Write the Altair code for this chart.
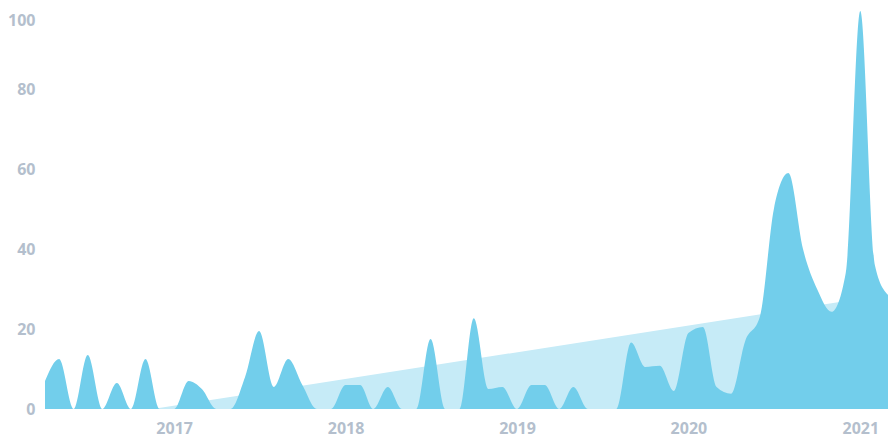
import altair as alt
import pandas as pd

# monthly buckets, Apr 2016 .. Mar 2021
months = pd.date_range("2016-04-01", "2021-03-01", freq="MS").strftime("%Y-%m-%d").tolist()

counts_2016 = [7, 12.5, 0, 13.5, 0, 6.5, 0, 12.5, 0]
counts_2017 = [0, 7, 5, 0, 0, 8, 19.5, 5.5, 12.5, 6, 0, 0]
counts_2018 = [6, 6, 0, 5.5, 0, 0, 17.5, 0, 0, 22.7, 5, 5.5]
counts_2019 = [0, 6, 6, 0, 5.5, 0, 0, 0, 16.6, 10.5, 10.8, 4.5]
counts_2020 = [19, 20.5, 5.5, 3.8, 17, 23, 50, 59, 40, 30, 24.3, 34]
counts_2021 = [99.5, 36, 28.5]

counts = counts_2016 + counts_2017 + counts_2018 + counts_2019 + counts_2020 + counts_2021
y_ticks = [0, 20, 40, 60, 80, 100]

source = pd.DataFrame({"date": months, "value": counts})

text_color = "#b4bfcd"

x = alt.X(
    "date:T",
    scale=alt.Scale(nice=False),
    axis=alt.Axis(
        title=None, format="%Y", tickCount="year", grid=False, domain=False,
        ticks=False, labelPadding=11, labelFlush=False,
    ),
)
y = alt.Y(
    "value:Q",
    scale=alt.Scale(domain=[0, 100], nice=False),
    axis=alt.Axis(
        title=None, values=y_ticks, grid=False, domain=False, ticks=False,
        labelPadding=10,
        # the top label would run off the page, nudge it down a bit
        labelOffset={"condition": {"test": "datum.value == 100", "value": 11}, "value": 0},
    ),
)

base = alt.Chart(source)

# linear trend of the same monthly counts
trend = base.transform_regression("date", "value").mark_area(
    color="#c6ebf7", clip=True
).encode(x=x, y=y)

area = base.mark_area(color="#72ceeb", interpolate="monotone", clip=True).encode(x=x, y=y)

chart = alt.layer(trend, area).properties(
    width=843,
    height=400,
    autosize=alt.AutoSizeParams(type="none"),
    padding={"left": 37, "top": 1, "right": 0, "bottom": 29},
).configure_view(
    strokeWidth=0
).configure_axis(
    labelFont="Open Sans",
    labelFontSize=16,
    labelFontWeight="bold",
    labelColor=text_color,
)

chart.save("out.html", embed_options={"renderer": "svg", "actions": False})
